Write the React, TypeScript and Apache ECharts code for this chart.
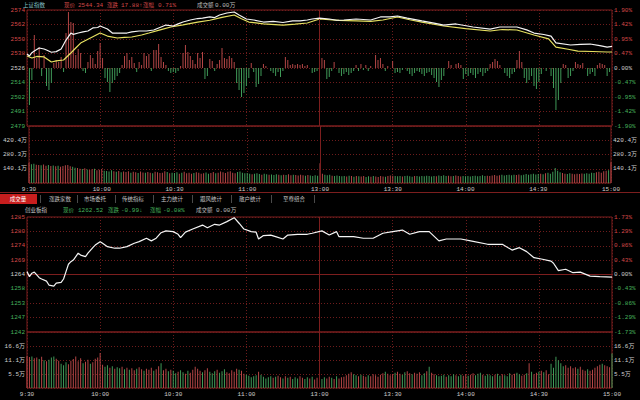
import React, { useEffect, useRef } from 'react';
import * as echarts from 'echarts';

// ---------- data ----------
const timeLabels = ['9:30', '10:00', '10:30', '11:00', '13:00', '13:30', '14:00', '14:30', '15:00'];

const shBase = 2526.46;
const cyBase = 1263.51;

const shPriceTicks = ['2574', '2562', '2550', '2538', '2526', '2514', '2502', '2491', '2479'];
const shPctTicks = ['1.90%', '1.42%', '0.95%', '0.47%', '0.00%', '-0.47%', '-0.95%', '-1.42%', '-1.90%'];
const cyPriceTicks = ['1285', '1280', '1274', '1269', '1264', '1258', '1253', '1247', '1242'];
const cyPctTicks = ['1.73%', '1.29%', '0.86%', '0.43%', '0.00%', '-0.43%', '-0.86%', '-1.29%', '-1.73%'];
const shVolTicks = ['', '140.1万', '280.3万', '420.4万', ''];
const cyVolTicks = ['', '5.5万', '11.1万', '16.6万', ''];

const tabs = ['成交量', '涨跌家数', '市场委托', '传统指标', '主力统计', '跟风统计', '散户统计', '至尊组合'];

// 上证指数 (white) [minute, price]
const shWhite = [
  [0, 2538.1], [1, 2536.4], [2, 2539.1], [3, 2540.6], [5, 2543.0], [7, 2542.2], [8, 2541.4], [10, 2539.5],
  [12, 2540.0], [14, 2542.2], [16, 2549.6], [18, 2555.4], [19, 2554.3], [21, 2555.4], [23, 2556.3], [25, 2557.1],
  [27, 2559.6], [29, 2560.0], [30, 2561.2], [33, 2558.7], [35, 2555.4], [38, 2555.4], [41, 2555.4], [43, 2556.3],
  [46, 2557.1], [49, 2557.1], [52, 2557.9], [55, 2560.4], [57, 2562.0], [60, 2561.2], [62, 2563.0], [64, 2564.5],
  [67, 2566.2], [70, 2567.4], [72, 2567.8], [75, 2568.7], [77, 2568.2], [79, 2570.3], [82, 2572.0], [85, 2572.8],
  [87, 2570.3], [90, 2567.0], [93, 2566.2], [97, 2564.5], [101, 2565.0], [105, 2564.1], [109, 2565.4], [112, 2565.4],
  [115, 2566.2], [117, 2567.0], [120, 2567.8], [124, 2567.0], [127, 2566.0], [130, 2566.2], [135, 2567.0], [141, 2566.2],
  [145, 2568.7], [149, 2568.7], [152, 2569.5], [156, 2567.8], [162, 2565.4], [167, 2563.6], [171, 2562.0], [176, 2562.9],
  [183, 2560.4], [190, 2558.7], [194, 2560.4], [201, 2560.4], [205, 2558.0], [208, 2555.4], [212, 2554.2], [215, 2552.9],
  [217, 2547.2], [223, 2545.5], [227, 2546.0], [231, 2546.3], [235, 2545.0], [238, 2543.8], [240, 2544.3],
];

// 领先指标 (yellow) [minute, price]
const shYellow = [
  [0, 2536.4], [2, 2534.7], [4, 2536.0], [7, 2535.6], [10, 2531.4], [12, 2532.3], [15, 2533.1], [18, 2538.9],
  [20, 2543.0], [22, 2547.1], [26, 2551.3], [30, 2555.4], [33, 2552.9], [37, 2551.3], [40, 2551.8], [43, 2552.1],
  [47, 2553.8], [50, 2555.4], [55, 2558.2], [59, 2560.4], [64, 2562.2], [70, 2564.5], [75, 2566.0], [80, 2568.3],
  [85, 2570.3], [88, 2567.2], [91, 2564.5], [97, 2563.0], [105, 2562.0], [110, 2562.8], [115, 2563.7], [120, 2567.0],
  [128, 2565.8], [135, 2565.4], [141, 2565.0], [146, 2566.2], [152, 2568.7], [157, 2566.4], [162, 2564.5], [171, 2561.2],
  [180, 2559.0], [190, 2557.1], [195, 2558.3], [201, 2557.9], [208, 2553.8], [214, 2550.5], [217, 2543.8], [222, 2542.0],
  [226, 2540.5], [232, 2540.1], [238, 2539.7], [240, 2539.7],
];

// red / green strength bars [minute, value]
const shStrength = [
  [1, -37], [2, -12], [3, 33], [4, 10], [5, 21], [6, -8], [7, 13], [8, -18], [9, -22], [10, -15], [11, 5], [12, 8],
  [13, 6], [14, 11], [15, -4], [16, 35], [17, 56], [18, 46], [19, 45], [20, 13], [21, 19], [22, 15], [23, -3], [24, -5],
  [25, 6], [26, 13], [27, 10], [28, 4], [29, 17], [30, 25], [31, 10], [32, -10], [33, -14], [34, -24], [35, -15], [36, -12],
  [37, -8], [38, -5], [39, 3], [40, 12], [41, 15], [42, 8], [43, 11], [44, 5], [45, -4], [46, 6], [47, 3], [48, 15],
  [49, 12], [50, 14], [51, -3], [52, 18], [53, 18], [54, 24], [55, 11], [56, 6], [57, 3], [58, -3], [59, -5], [60, -4],
  [61, -5], [62, -3], [63, 2], [64, 15], [65, 23], [66, 16], [67, 12], [68, 8], [69, 4], [70, 15], [71, 10], [72, 16],
  [73, -11], [74, -8], [75, 9], [76, 7], [77, -3], [78, 4], [79, 8], [80, 20], [81, 10], [82, 9], [83, 12], [84, 10],
  [85, 6], [86, -15], [87, -22], [88, -29], [89, -25], [90, -18], [91, -10], [92, 5], [93, -4], [94, -19], [95, -16], [96, -8],
  [97, 4], [98, 2], [100, -3], [101, -5], [102, -8], [103, -4], [104, -9], [105, -3], [106, 11], [107, 8], [108, 3], [109, 4],
  [110, 3], [111, 4], [112, 3], [113, 4], [114, 2], [115, 3], [117, -5], [118, -4], [119, -3], [120, 15], [121, 10], [122, 8],
  [123, -11], [124, -9], [125, -3], [126, 6], [128, -5], [129, -8], [130, -6], [131, -4], [132, -7], [133, -5], [134, -3], [135, 3],
  [136, -3], [137, 4], [138, -2], [139, 3], [140, -3], [141, 2], [143, 13], [144, 8], [145, 10], [146, 4], [147, -3], [148, 2],
  [150, 7], [151, -5], [152, -4], [153, -5], [154, -2], [156, -3], [157, -6], [158, -8], [159, -5], [160, -3], [161, -4], [162, -6],
  [163, -8], [164, -5], [165, -4], [166, -7], [167, -10], [168, -14], [169, -19], [170, -12], [171, -8], [173, 7], [174, 3], [176, 4],
  [177, 5], [178, 3], [179, -11], [180, -6], [181, -8], [182, -5], [183, -7], [184, -10], [185, -6], [186, -4], [187, -8], [188, -5],
  [189, -3], [190, 4], [191, 6], [192, 9], [193, 7], [194, 3], [196, -5], [197, -8], [198, -10], [199, -6], [200, -4], [201, 8],
  [202, 17], [203, 6], [204, -10], [205, -15], [206, -12], [207, -8], [208, -18], [209, -21], [210, -14], [211, -6], [213, -3], [215, -8],
  [216, -20], [217, -42], [218, -32], [219, -15], [220, 4], [221, 3], [222, -10], [223, -8], [224, -3], [225, 6], [226, 4], [227, 3],
  [228, 5], [230, -8], [231, -6], [232, -4], [233, -8], [234, 3], [235, 5], [236, 4], [237, 3], [238, -8], [239, -4],
];

// 上证 volume per minute (万)
const shVolume = [
  200, 185, 190, 180, 178, 175, 182, 170, 176, 168,
  172, 165, 170, 160, 168, 175, 178, 165, 160, 150,
  148, 140, 138, 145, 132, 128, 135, 140, 125, 130,
  138, 120, 118, 112, 125, 115, 110, 118, 105, 112,
  108, 115, 102, 110, 105, 98, 112, 104, 100, 108,
  102, 96, 110, 105, 98, 100, 115, 108, 95, 102,
  98, 105, 92, 100, 110, 95, 102, 90, 98, 105,
  100, 92, 96, 104, 90, 98, 108, 95, 100, 112,
  105, 98, 110, 115, 102, 96, 108, 112, 100, 95,
  98, 92, 85, 90, 96, 88, 82, 90, 86, 80,
  84, 78, 86, 80, 75, 82, 78, 85, 76, 80,
  78, 74, 80, 76, 72, 78, 74, 70, 76, 72,
  195, 90, 82, 76, 80, 72, 68, 74, 70, 66,
  70, 65, 72, 68, 62, 70, 66, 64, 68, 60,
  66, 62, 70, 64, 60, 68, 65, 62, 70, 74,
  72, 68, 66, 70, 64, 68, 72, 66, 62, 70,
  68, 64, 70, 66, 72, 68, 64, 70, 66, 74,
  70, 76, 68, 72, 66, 70, 74, 68, 64, 70,
  66, 70, 64, 68, 72, 66, 70, 75, 68, 72,
  70, 74, 78, 72, 76, 80, 74, 78, 82, 76,
  80, 78, 84, 76, 82, 88, 80, 85, 90, 84,
  88, 92, 86, 95, 100, 90, 110, 147, 120, 105,
  98, 92, 88, 95, 90, 86, 92, 88, 94, 90,
  96, 92, 100, 98, 105, 110, 102, 115, 120, 125,
  205,
];
const shVolDir =
  'rggrrgrrgr' + 'grgrrrrrgg' + 'rrgrgrrgrr' + 'rggggrgrgr' + 'rrgrrgrrgr' + 'rgrrrrrgrg' +
  'ggrgrrrrgr' + 'rrrggrrgrr' + 'rrrrrrgggg' + 'ggrgggrggr' + 'gggrgrgrrg' + 'rrrrgrgggg' +
  'rrgggrgggg' + 'grgrgrgrrg' + 'grgrrrrgrr' + 'rgggrggggr' + 'ggggggggrg' + 'gggrrgrrrg' +
  'gggggggggr' + 'rrrrrggggg' + 'grrggggggg' + 'grgrgggggg' + 'rrggrrrrrg' + 'ggggrrrrrg' + 'r';

// 创业板指 (white) [minute, price]
const cyLine = [
  [0, 1264.6], [1, 1262.7], [2, 1264.0], [3, 1264.4], [5, 1262.3], [6, 1261.8], [8, 1261.0], [9, 1259.5],
  [11, 1259.1], [12, 1260.2], [14, 1260.5], [15, 1261.8], [16, 1264.6], [17, 1267.4], [18, 1268.4], [19, 1269.0],
  [21, 1271.6], [22, 1270.9], [24, 1270.3], [25, 1271.6], [27, 1273.7], [28, 1274.7], [30, 1276.0], [31, 1275.4],
  [33, 1274.1], [36, 1273.5], [38, 1273.5], [41, 1274.1], [44, 1275.4], [46, 1276.0], [49, 1277.3], [51, 1276.3],
  [53, 1277.3], [55, 1279.4], [57, 1280.1], [60, 1279.8], [62, 1278.8], [63, 1277.5], [65, 1279.6], [68, 1280.8],
  [72, 1282.3], [74, 1281.3], [77, 1282.6], [79, 1282.3], [82, 1283.6], [85, 1285.1], [87, 1283.0], [89, 1280.8],
  [92, 1279.8], [94, 1279.6], [95, 1277.0], [97, 1278.3], [100, 1278.5], [102, 1277.9], [105, 1277.0], [107, 1278.5],
  [111, 1278.8], [115, 1278.8], [117, 1279.2], [121, 1280.1], [124, 1278.5], [127, 1279.8], [128, 1277.9], [134, 1277.9],
  [138, 1277.3], [142, 1277.3], [146, 1279.2], [150, 1279.8], [154, 1280.4], [157, 1278.8], [161, 1279.8], [165, 1279.8],
  [169, 1276.3], [172, 1277.0], [178, 1277.0], [182, 1276.3], [189, 1275.0], [195, 1275.0], [199, 1272.8], [202, 1273.7],
  [205, 1272.2], [208, 1269.9], [211, 1269.4], [215, 1268.6], [216, 1267.8], [218, 1265.0], [221, 1265.5], [224, 1264.2],
  [227, 1264.4], [231, 1262.9], [235, 1262.7], [240, 1262.5],
];

// 创业板 volume per minute (万)
const cyVolume = [
  12.5, 12.2, 12.4, 11.8, 12.0, 11.5, 12.3, 11.0, 10.6, 11.2,
  12.0, 12.4, 11.6, 10.8, 9.6, 9.0, 10.2, 9.4, 10.8, 11.5,
  12.4, 10.6, 11.8, 9.8, 10.4, 11.2, 9.6, 10.2, 11.6, 12.0,
  13.8, 9.2, 8.4, 9.0, 8.0, 8.6, 7.6, 8.2, 7.8, 8.4,
  7.4, 8.0, 7.2, 7.8, 7.0, 7.6, 8.2, 7.4, 6.8, 7.6,
  7.2, 8.0, 6.8, 7.4, 8.6, 9.8, 7.0, 7.6, 6.6, 7.2,
  6.8, 5.8, 6.4, 7.0, 6.2, 5.6, 6.8, 6.0, 7.2, 8.4,
  7.6, 6.8, 6.2, 7.0, 7.8, 6.4, 5.8, 6.6, 7.2, 6.0,
  6.6, 7.4, 6.2, 5.8, 7.0, 6.4, 7.6, 7.2, 6.8, 5.6,
  5.2, 4.8, 4.2, 4.6, 5.0, 6.4, 5.2, 4.4, 3.8, 4.2,
  4.6, 4.0, 4.4, 4.8, 4.2, 3.8, 4.6, 4.0, 4.4, 3.6,
  4.2, 3.8, 4.6, 4.0, 3.6, 4.2, 3.8, 4.4, 3.4, 4.0,
  11.0, 3.6, 4.2, 3.8, 4.4, 4.0, 3.6, 4.6, 3.8, 4.2,
  4.4, 5.0, 5.6, 6.2, 5.4, 5.0, 4.6, 5.2, 4.8, 4.4,
  5.0, 4.6, 5.4, 5.0, 4.4, 5.2, 5.8, 6.4, 5.6, 5.0,
  5.4, 6.0, 6.4, 5.6, 5.2, 6.2, 6.6, 5.8, 5.4, 6.0,
  5.6, 6.2, 5.0, 5.8, 6.6, 8.4, 6.0, 5.4, 5.0, 4.6,
  4.8, 5.2, 4.4, 5.0, 4.6, 5.4, 5.0, 4.6, 5.2, 4.8,
  5.4, 4.8, 5.2, 5.8, 5.0, 5.6, 6.0, 5.2, 4.8, 5.4,
  5.0, 4.6, 5.2, 5.6, 4.8, 5.4, 5.0, 4.6, 5.8, 5.2,
  5.6, 6.0, 5.4, 4.8, 5.2, 5.8, 9.8, 6.4, 5.4, 6.0,
  6.4, 6.8, 6.2, 7.0, 5.4, 9.6, 8.0, 12.3, 11.0, 9.8,
  8.6, 9.0, 8.0, 8.6, 7.8, 8.2, 7.6, 8.4, 7.2, 6.8,
  7.4, 6.8, 7.2, 8.0, 8.6, 9.2, 9.6, 9.0, 8.6, 8.2,
  13.6,
];
const cyVolDir =
  'rrgrrgrgrg' + 'ggrrgggrrr' + 'rrrgrrgrrr' + 'rrggrgrggr' + 'grgrrgrrgr' + 'rrgrrgrrgr' +
  'ggrggrgrrr' + 'rrgrrgggrg' + 'ggrrrrrgrr' + 'gggggrgggg' + 'grgrrgrgrg' + 'ggrrggrgrr' +
  'rggrrgrgrr' + 'rrrrggrgrr' + 'grrrrrrgrr' + 'rgrrggrrgr' + 'rrggrgrrgg' + 'ggrgggrggr' +
  'rgrrgggrgg' + 'ggrggrgggr' + 'rggrrgrgrr' + 'grgrrggggg' + 'grrrrrgrrr' + 'grrrrrgrrr' + 'g';

// ---------- styles ----------
const BG = '#000000';
const FRAME = '#7c1e1e';
const GRIDC = '#6e1c1c';
const RED = '#d44848';
const GREEN = '#46b05c';
const VRED = '#b44646';
const VGREEN = '#3f9a58';
const LABEL = '#cfcfcf';
const FONT = "'Liberation Mono','Noto Sans CJK SC',monospace";
const CJK = "'Noto Sans CJK SC',sans-serif";

const GL = 27;
const GW = 585;

function tickColor(i: number) {
  if (i < 4) return RED;
  if (i === 4) return LABEL;
  return GREEN;
}

function priceAxis(grid: number, half: number, step: number, labels: string[], right: boolean, split: boolean) {
  return {
    type: 'value',
    gridIndex: grid,
    position: right ? 'right' : 'left',
    min: -half,
    max: half,
    interval: step,
    axisLine: { show: false },
    axisTick: { show: false },
    splitLine: { show: split, lineStyle: { color: GRIDC, type: [1, 2], width: 1 } },
    axisLabel: {
      show: true,
      showMinLabel: true,
      showMaxLabel: true,
      margin: 2,
      fontSize: 6,
      fontFamily: FONT,
      formatter: (v: number) => labels[Math.round((half - v) / step)] ?? '',
      color: (v: any) => tickColor(Math.round((half - Number(v)) / step)),
    },
  };
}

function volAxis(grid: number, step: number, labels: string[], right: boolean, split: boolean) {
  return {
    type: 'value',
    gridIndex: grid,
    position: right ? 'right' : 'left',
    min: 0,
    max: step * 4,
    interval: step,
    axisLine: { show: false },
    axisTick: { show: false },
    splitLine: { show: split, lineStyle: { color: GRIDC, type: [1, 2], width: 1 } },
    axisLabel: {
      show: true,
      showMinLabel: true,
      showMaxLabel: true,
      margin: 2,
      fontSize: 6,
      fontFamily: FONT,
      color: LABEL,
      formatter: (v: number) => labels[Math.round(v / step)] ?? '',
    },
  };
}

function timeAxis(grid: number, showLabel: boolean) {
  return {
    type: 'value',
    gridIndex: grid,
    min: 0,
    max: 240,
    interval: 30,
    axisLine: { show: false },
    axisTick: { show: false },
    splitLine: { show: true, lineStyle: { color: GRIDC, type: [1, 2], width: 1 } },
    axisLabel: {
      show: showLabel,
      showMinLabel: true,
      showMaxLabel: true,
      margin: 3,
      fontSize: 6,
      fontFamily: FONT,
      color: LABEL,
      formatter: (v: number) => timeLabels[Math.round(v / 30)] ?? '',
    },
  };
}

const vLine = (extra: any[] = []) => ({
  silent: true,
  symbol: 'none',
  label: { show: false },
  lineStyle: { color: FRAME, type: 'solid', width: 1 },
  data: [{ xAxis: 120 }, ...extra],
});

function txt(x: number, y: number, text: string, fill: string, size: number, family: string, align = 'left') {
  return {
    type: 'text',
    x,
    y,
    silent: true,
    style: { text, fill, fontSize: size, fontFamily: family, align, verticalAlign: 'middle' },
  };
}

function buildOption() {
  const toBp = (p: number, base: number) => (p / base - 1) * 10000;

  const graphics: any[] = [
    // top header
    txt(23, 5, '上证指数', '#86c6cc', 5.5, CJK),
    txt(64, 5, '现价', RED, 5.5, CJK),
    txt(78, 5, '2544.34', RED, 6, FONT),
    txt(107, 5, '涨跌', RED, 5.5, CJK),
    txt(121, 5, '17.88↑', RED, 6, FONT),
    txt(143, 5, '涨幅', RED, 5.5, CJK),
    txt(158, 5, '0.71%', RED, 6, FONT),
    txt(197, 5, '成交额', '#bdbdbd', 5.5, CJK),
    txt(215, 5, '0.00万', '#bdbdbd', 6, FONT),
    // tab bar
    { type: 'line', silent: true, shape: { x1: 0, y1: 192.5, x2: 640, y2: 192.5 }, style: { stroke: FRAME, lineWidth: 1 } },
    { type: 'rect', silent: true, shape: { x: 0, y: 194, width: 37, height: 10 }, style: { fill: '#c81e1e' } },
    // bottom header
    txt(25, 210, '创业板指', '#c8c8c8', 5.5, CJK),
    txt(63, 210, '现价', GREEN, 5.5, CJK),
    txt(78, 210, '1262.52', GREEN, 6, FONT),
    txt(108, 210, '涨跌', GREEN, 5.5, CJK),
    txt(121, 210, '-0.99↓', GREEN, 6, FONT),
    txt(150, 210, '涨幅', GREEN, 5.5, CJK),
    txt(163, 210, '-0.08%', GREEN, 6, FONT),
    txt(196, 210, '成交额', '#bdbdbd', 5.5, CJK),
    txt(216, 210, '0.00万', '#bdbdbd', 6, FONT),
  ];
  const tabCenters = [18, 60, 95, 133, 172, 211, 250, 294];
  const seps = [40, 77, 115, 153, 192, 231, 271, 314];
  tabs.forEach((t, i) => {
    graphics.push(txt(tabCenters[i], 199, t, i === 0 ? '#ffffff' : '#c4c4c4', 5.5, CJK, 'center'));
  });
  seps.forEach((x) => {
    graphics.push({ type: 'line', silent: true, shape: { x1: x + 0.5, y1: 195, x2: x + 0.5, y2: 203 }, style: { stroke: '#4a4a4a', lineWidth: 1 } });
  });

  const gridCommon = { show: true, borderColor: FRAME, borderWidth: 1, backgroundColor: 'transparent', containLabel: false };

  return {
    animation: false,
    backgroundColor: BG,
    grid: [
      { ...gridCommon, left: GL, top: 10, width: GW, height: 116 },
      { ...gridCommon, left: GL, top: 126, width: GW, height: 57 },
      { ...gridCommon, left: GL, top: 217, width: GW, height: 115 },
      { ...gridCommon, left: GL, top: 332, width: GW, height: 56 },
    ],
    xAxis: [timeAxis(0, false), timeAxis(1, true), timeAxis(2, false), timeAxis(3, true)],
    yAxis: [
      priceAxis(0, 190, 47.5, shPriceTicks, false, true),
      priceAxis(0, 190, 47.5, shPctTicks, true, false),
      { type: 'value', gridIndex: 0, min: -58, max: 58, show: false, splitLine: { show: false } },
      volAxis(1, 140.13, shVolTicks, false, true),
      volAxis(1, 140.13, shVolTicks, true, false),
      priceAxis(2, 173, 43.25, cyPriceTicks, false, true),
      priceAxis(2, 173, 43.25, cyPctTicks, true, false),
      volAxis(3, 5.53, cyVolTicks, false, true),
      volAxis(3, 5.53, cyVolTicks, true, false),
    ],
    graphic: graphics,
    series: [
      {
        type: 'bar',
        xAxisIndex: 0,
        yAxisIndex: 2,
        barWidth: 1,
        data: shStrength.map(([t, v]) => ({ value: [t, v], itemStyle: { color: v >= 0 ? VRED : VGREEN } })),
        markLine: vLine(),
        z: 2,
      },
      {
        type: 'line',
        xAxisIndex: 0,
        yAxisIndex: 0,
        showSymbol: false,
        data: shYellow.map(([t, p]) => [t, toBp(p, shBase)]),
        lineStyle: { color: '#e6e060', width: 1.2 },
        z: 4,
      },
      {
        type: 'line',
        xAxisIndex: 0,
        yAxisIndex: 0,
        showSymbol: false,
        data: shWhite.map(([t, p]) => [t, toBp(p, shBase)]),
        lineStyle: { color: '#f4f4f4', width: 1.2 },
        z: 5,
      },
      {
        type: 'bar',
        xAxisIndex: 1,
        yAxisIndex: 3,
        barWidth: 1,
        data: shVolume.map((v, i) => ({ value: [i, v], itemStyle: { color: shVolDir[i] === 'r' ? VRED : VGREEN } })),
        markLine: vLine(),
      },
      {
        type: 'line',
        xAxisIndex: 2,
        yAxisIndex: 5,
        showSymbol: false,
        data: cyLine.map(([t, p]) => [t, toBp(p, cyBase)]),
        lineStyle: { color: '#f4f4f4', width: 1.2 },
        markLine: vLine([{ yAxis: 0 }]),
        z: 5,
      },
      {
        type: 'bar',
        xAxisIndex: 3,
        yAxisIndex: 7,
        barWidth: 1,
        data: cyVolume.map((v, i) => ({ value: [i, v], itemStyle: { color: cyVolDir[i] === 'r' ? VRED : VGREEN } })),
        markLine: vLine(),
      },
    ],
  };
}

export default function App() {
  const ref = useRef<HTMLDivElement>(null);
  useEffect(() => {
    document.body.style.margin = '0';
    document.body.style.background = BG;
    if (!ref.current) return;
    const chart = echarts.init(ref.current, undefined, { renderer: 'svg' });
    chart.setOption(buildOption() as any);
    return () => chart.dispose();
  }, []);
  return <div ref={ref} style={{ width: 640, height: 400, background: BG }} />;
}
